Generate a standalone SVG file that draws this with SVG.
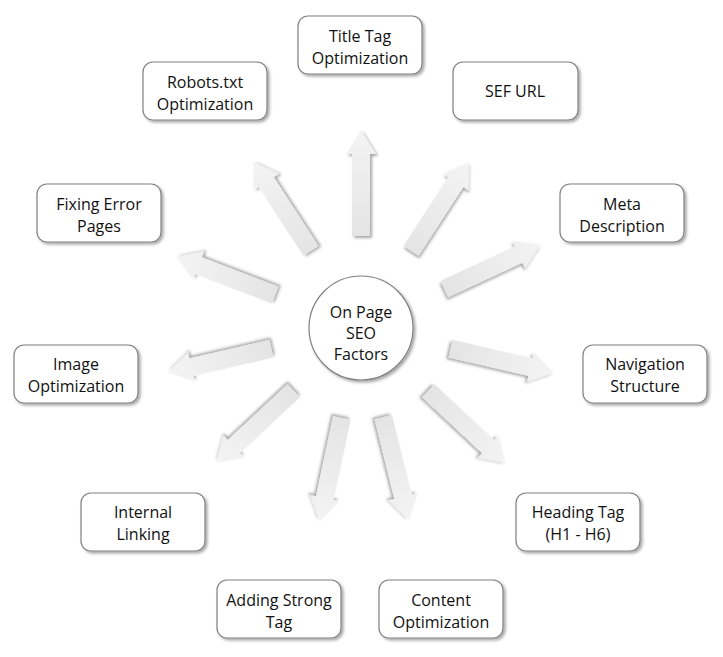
<svg xmlns="http://www.w3.org/2000/svg" width="723" height="657" viewBox="0 0 723 657">
<defs>
<linearGradient id="ag" x1="0" y1="1" x2="0" y2="0"><stop offset="0" stop-color="#e4e4e4"/><stop offset="1" stop-color="#f4f4f4"/></linearGradient>
<filter id="sh" x="-20%" y="-20%" width="150%" height="150%"><feGaussianBlur in="SourceAlpha" stdDeviation="1.5"/><feOffset dx="1.5" dy="2" result="b"/><feComponentTransfer><feFuncA type="linear" slope="0.35"/></feComponentTransfer><feMerge><feMergeNode/><feMergeNode in="SourceGraphic"/></feMerge></filter>
<path id="arr" d="M-9,-92 L-9,-174 L-15,-174 L0,-198 L15,-174 L9,-174 L9,-92 Z"/>
</defs>
<style>
.box{fill:#fff;stroke:#808080;stroke-width:1.2;filter:url(#sh)}
text{font-family:"Open Sans","Liberation Sans",sans-serif;font-size:16px;fill:#111;text-anchor:middle}
.a{fill:url(#ag);filter:url(#sh)}
</style>
<rect width="723" height="657" fill="#fff"/>
<g id="connectors" transform="translate(361,328)">
<use href="#arr" class="a" transform="rotate(0)"/>
<use href="#arr" class="a" transform="rotate(33)"/>
<use href="#arr" class="a" transform="rotate(65)"/>
<use href="#arr" class="a" transform="rotate(103)"/>
<use href="#arr" class="a" transform="rotate(133)"/>
<use href="#arr" class="a" transform="rotate(166)"/>
<use href="#arr" class="a" transform="rotate(192)"/>
<use href="#arr" class="a" transform="rotate(227)"/>
<use href="#arr" class="a" transform="rotate(257)"/>
<use href="#arr" class="a" transform="rotate(291)"/>
<use href="#arr" class="a" transform="rotate(327)"/>
</g>
<g id="center"><circle cx="361" cy="328" r="52" class="box"/><text x="361" y="318">On Page</text><text x="361" y="339">SEO</text><text x="361" y="360">Factors</text></g>
<g id="title"><rect x="298" y="16" width="124" height="58" rx="10" class="box"/><text x="360" y="42">Title Tag</text><text x="360" y="64">Optimization</text></g>
<g id="sef"><rect x="453" y="62" width="125" height="58" rx="10" class="box"/><text x="515" y="97">SEF URL</text></g>
<g id="robots"><rect x="143" y="62" width="124" height="58" rx="10" class="box"/><text x="205" y="88">Robots.txt</text><text x="205" y="110">Optimization</text></g>
<g id="meta"><rect x="560" y="184" width="124" height="58" rx="10" class="box"/><text x="622" y="210">Meta</text><text x="622" y="232">Description</text></g>
<g id="fixing"><rect x="37" y="184" width="124" height="58" rx="10" class="box"/><text x="99" y="210">Fixing Error</text><text x="99" y="232">Pages</text></g>
<g id="image"><rect x="14" y="345" width="124" height="58" rx="10" class="box"/><text x="76" y="370">Image</text><text x="76" y="392">Optimization</text></g>
<g id="navigation"><rect x="583" y="345" width="124" height="58" rx="10" class="box"/><text x="645" y="370">Navigation</text><text x="645" y="392">Structure</text></g>
<g id="internal"><rect x="81" y="493" width="124" height="58" rx="10" class="box"/><text x="143" y="518">Internal</text><text x="143" y="540">Linking</text></g>
<g id="heading"><rect x="516" y="493" width="124" height="58" rx="10" class="box"/><text x="578" y="518">Heading Tag</text><text x="578" y="540">(H1 - H6)</text></g>
<g id="strong"><rect x="217" y="580" width="124" height="58" rx="10" class="box"/><text x="279" y="606">Adding Strong</text><text x="279" y="628">Tag</text></g>
<g id="content"><rect x="379" y="580" width="124" height="58" rx="10" class="box"/><text x="441" y="606">Content</text><text x="441" y="628">Optimization</text></g>
</svg>
